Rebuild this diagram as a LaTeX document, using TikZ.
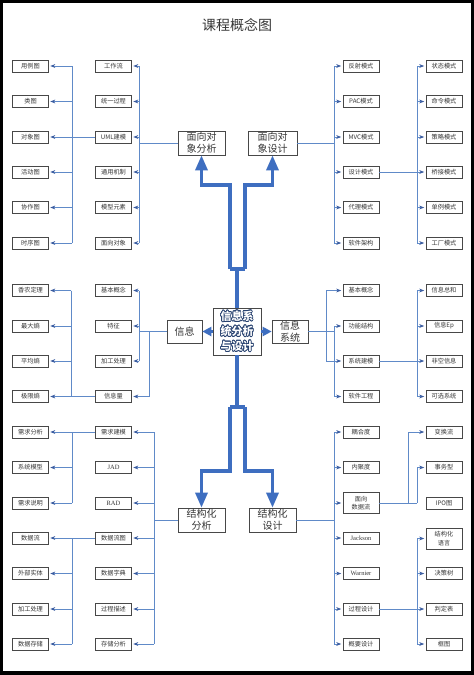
\documentclass[tikz,border=0pt]{standalone}
\usepackage{fontspec}
\setmainfont{Noto Sans CJK SC}
\newfontfamily\latinfont{Liberation Serif}
\usepackage{contour}
\usetikzlibrary{arrows.meta}
\contourlength{0.7pt}

\definecolor{lineblue}{RGB}{96,138,200}
\definecolor{tipblue}{RGB}{58,92,160}
\definecolor{thickblue}{RGB}{62,110,192}
\definecolor{outlineblue}{RGB}{40,66,112}
\definecolor{boxgray}{RGB}{72,72,72}
\definecolor{textgray}{RGB}{55,55,55}

\tikzset{
  box/.style={draw=boxgray, line width=0.6pt, text=textgray, minimum width=36pt, minimum height=12pt, inner sep=0pt, font=\fontsize{6.2}{7.4}\selectfont},
  tallbox/.style={box, minimum height=21pt, align=center, font=\fontsize{6.2}{8.6}\selectfont},
  bigbox/.style={draw=boxgray, line width=0.7pt, text=textgray, minimum width=47pt, minimum height=24pt, inner sep=0pt, align=center, font=\fontsize{10}{12}\selectfont},
  wire/.style={draw=lineblue, line width=0.8pt},
  feed/.style={wire, -{Stealth[length=5pt,width=3.8pt,color=tipblue]}, shorten >=1.5pt},
  trunk/.style={draw=thickblue, line width=3.2pt},
  bigfeed/.style={trunk, -{Triangle[length=15pt,width=12pt]}},
  sidefeed/.style={trunk, -{Triangle[length=9pt,width=9pt]}},
}

\begin{document}
\begin{tikzpicture}[x=1pt,y=-1pt]
\fill[black] (0,0) rectangle (474,675);
\fill[white] (3,3) rectangle (471,671);
\useasboundingbox (0,0) rectangle (474,675);

\node[text=textgray, font=\fontsize{14}{16}\selectfont] (title) at (237,25) {课程概念图};

% main nodes
\node[draw=boxgray, line width=0.7pt, fill=white, minimum width=48pt, minimum height=47pt, inner sep=0pt, align=center, text=white, font=\bfseries\fontsize{11}{15}\selectfont] (core) at (237,331.5) {\contour{outlineblue}{信息系}\\\contour{outlineblue}{统分析}\\\contour{outlineblue}{与设计}};
\node[bigbox] (ooa) at (201.5,143) {面向对\\象分析};
\node[bigbox, minimum width=49pt] (ood) at (272.5,143) {面向对\\象设计};
\node[bigbox, minimum width=35pt, minimum height=23pt] (info) at (184.5,331.5) {信息};
\node[bigbox, minimum width=36pt, minimum height=23pt] (infosys) at (290,331.5) {信息\\系统};
\node[bigbox] (sa) at (201.5,520) {结构化\\分析};
\node[bigbox] (sd) at (272.5,520) {结构化\\设计};

% thick trunks
\coordinate (upL) at (230,269);
\coordinate (upR) at (245,269);
\coordinate (dnL) at (230,407);
\coordinate (dnR) at (245,407);
\draw[trunk] (core.north) -- (237,269);
\draw[trunk] (upL) -- (upR);
\draw[bigfeed] (upL) -- (230,185) -| (ooa.south);
\draw[bigfeed] (upR) -- (245,185) -| (ood.south);
\draw[trunk] (core.south) -- (237,407);
\draw[trunk] (dnL) -- (dnR);
\draw[bigfeed] (dnL) -- (230,471) -| (sa.north);
\draw[bigfeed] (dnR) -- (245,471) -| (sd.north);
\draw[sidefeed] (core.west) -- (info.east);
\draw[sidefeed] (core.east) -- (infosys.west);

% top left
\node[box] (usecase) at (30.5,66) {用例图};
\node[box] (classd) at (30.5,101.5) {类图};
\node[box] (objectd) at (30.5,137) {对象图};
\node[box] (activity) at (30.5,172) {活动图};
\node[box] (collab) at (30.5,207.5) {协作图};
\node[box] (sequence) at (30.5,243) {时序图};
\node[box] (workflow) at (113.5,66) {工作流};
\node[box] (rup) at (113.5,101.5) {统一过程};
\node[box] (uml) at (113.5,137) {UML建模};
\node[box] (mech) at (113.5,172) {通用机制};
\node[box] (elem) at (113.5,207.5) {模型元素};
\node[box] (oo) at (113.5,243) {面向对象};

\coordinate (tlo) at (72,137);
\draw[wire] (uml.west) -- (tlo);
\draw[wire] (tlo |- usecase.east) -- (tlo |- sequence.east);
\draw[feed] (tlo |- usecase.east) -- (usecase.east);
\draw[feed] (tlo |- classd.east) -- (classd.east);
\draw[feed] (tlo |- objectd.east) -- (objectd.east);
\draw[feed] (tlo |- activity.east) -- (activity.east);
\draw[feed] (tlo |- collab.east) -- (collab.east);
\draw[feed] (tlo |- sequence.east) -- (sequence.east);
\coordinate (tli) at (139,143);
\draw[wire] (ooa.west) -- (tli);
\draw[wire] (tli |- workflow.east) -- (tli |- oo.east);
\draw[feed] (tli |- workflow.east) -- (workflow.east);
\draw[feed] (tli |- rup.east) -- (rup.east);
\draw[feed] (tli |- uml.east) -- (uml.east);
\draw[feed] (tli |- mech.east) -- (mech.east);
\draw[feed] (tli |- elem.east) -- (elem.east);
\draw[feed] (tli |- oo.east) -- (oo.east);

% top right
\node[box] (reflect) at (361,66) {反射模式};
\node[box] (pac) at (361,101.5) {PAC模式};
\node[box] (mvc) at (361,137) {MVC模式};
\node[box] (dp) at (361,172) {设计模式};
\node[box] (proxy) at (361,207.5) {代理模式};
\node[box] (arch) at (361,243) {软件架构};
\node[box] (state) at (444,66) {状态模式};
\node[box] (command) at (444,101.5) {命令模式};
\node[box] (strategy) at (444,137) {策略模式};
\node[box] (bridge) at (444,172) {桥接模式};
\node[box] (singleton) at (444,207.5) {单例模式};
\node[box] (factory) at (444,243) {工厂模式};

\coordinate (tri) at (334,143);
\draw[wire] (ood.east) -- (tri);
\draw[wire] (tri |- reflect.west) -- (tri |- arch.west);
\draw[feed] (tri |- reflect.west) -- (reflect.west);
\draw[feed] (tri |- pac.west) -- (pac.west);
\draw[feed] (tri |- mvc.west) -- (mvc.west);
\draw[feed] (tri |- dp.west) -- (dp.west);
\draw[feed] (tri |- proxy.west) -- (proxy.west);
\draw[feed] (tri |- arch.west) -- (arch.west);
\coordinate (tro) at (417,172);
\draw[wire] (dp.east) -- (tro);
\draw[wire] (tro |- state.west) -- (tro |- factory.west);
\draw[feed] (tro |- state.west) -- (state.west);
\draw[feed] (tro |- command.west) -- (command.west);
\draw[feed] (tro |- strategy.west) -- (strategy.west);
\draw[feed] (tro |- bridge.west) -- (bridge.west);
\draw[feed] (tro |- singleton.west) -- (singleton.west);
\draw[feed] (tro |- factory.west) -- (factory.west);

% middle left
\node[box] (shannon) at (30.5,290.5) {香农定理};
\node[box] (maxent) at (30.5,326) {最大熵};
\node[box] (avgent) at (30.5,361) {平均熵};
\node[box] (limitent) at (30.5,396.5) {极限熵};
\node[box] (basic) at (113.5,290.5) {基本概念};
\node[box] (feature) at (113.5,326) {特征};
\node[box] (process) at (113.5,361) {加工处理};
\node[box] (infoqty) at (113.5,396.5) {信息量};

\coordinate (mlo) at (71,396.5);
\draw[wire] (infoqty.west) -- (mlo);
\draw[wire] (mlo |- shannon.east) -- (mlo);
\draw[feed] (mlo |- shannon.east) -- (shannon.east);
\draw[feed] (mlo |- maxent.east) -- (maxent.east);
\draw[feed] (mlo |- avgent.east) -- (avgent.east);
\draw[feed] (mlo) -- (limitent.east);
\coordinate (mli) at (139,331.5);
\draw[wire] (info.west) -- (mli);
\draw[wire] (mli |- basic.east) -- (mli |- process.east);
\draw[feed] (mli |- basic.east) -- (basic.east);
\draw[feed] (mli |- feature.east) -- (feature.east);
\draw[feed] (mli |- process.east) -- (process.east);
\draw[feed] (149,331.5) |- (infoqty.east);

% middle right
\node[box] (sbasic) at (361,290.5) {基本概念};
\node[box] (func) at (361,326) {功能结构};
\node[box] (sysmodel) at (361,361) {系统建模};
\node[box] (sweng) at (361,396.5) {软件工程};
\node[box] (isum) at (444,290.5) {信息总和};
\node[box] (iep) at (444,326) {信息Ep};
\node[box] (nonempty) at (444,361) {非空信息};
\node[box] (optsys) at (444,396.5) {可选系统};

\coordinate (mra) at (326,331.5);
\coordinate (mrb) at (334,331.5);
\draw[wire] (infosys.east) -- (mrb);
\draw[wire] (mra |- sbasic.west) -- (mra |- sysmodel.west);
\draw[feed] (mra |- sbasic.west) -- (sbasic.west);
\draw[feed] (mra |- sysmodel.west) -- (sysmodel.west);
\draw[wire] (mrb |- func.west) -- (mrb |- sweng.west);
\draw[feed] (mrb |- func.west) -- (func.west);
\draw[feed] (mrb |- sweng.west) -- (sweng.west);
\coordinate (mro) at (417,361);
\draw[wire] (sysmodel.east) -- (mro);
\draw[wire] (mro |- isum.west) -- (mro |- optsys.west);
\draw[feed] (mro |- isum.west) -- (isum.west);
\draw[feed] (mro |- iep.west) -- (iep.west);
\draw[feed] (mro |- nonempty.west) -- (nonempty.west);
\draw[feed] (mro |- optsys.west) -- (optsys.west);

% bottom left
\node[box] (reqana) at (30.5,432) {需求分析};
\node[box] (smodel) at (30.5,467.5) {系统模型};
\node[box] (reqspec) at (30.5,503) {需求说明};
\node[box] (dflow) at (30.5,538) {数据流};
\node[box] (extent) at (30.5,573.5) {外部实体};
\node[box] (proc) at (30.5,609) {加工处理};
\node[box] (dstore) at (30.5,644) {数据存储};
\node[box] (reqmod) at (113.5,432) {需求建模};
\node[box, font=\latinfont\fontsize{6.5}{7.4}\selectfont] (jad) at (113.5,467.5) {JAD};
\node[box, font=\latinfont\fontsize{6.5}{7.4}\selectfont] (rad) at (113.5,503) {RAD};
\node[box] (dfd) at (113.5,538) {数据流图};
\node[box] (dict) at (113.5,573.5) {数据字典};
\node[box] (procdesc) at (113.5,609) {过程描述};
\node[box] (storeana) at (113.5,644) {存储分析};

\coordinate (blo) at (72,432);
\draw[wire] (reqmod.west) -- (blo);
\draw[wire] (blo) -- (blo |- reqspec.east);
\draw[feed] (blo) -- (reqana.east);
\draw[feed] (blo |- smodel.east) -- (smodel.east);
\draw[feed] (blo |- reqspec.east) -- (reqspec.east);
\coordinate (blp) at (72,538);
\draw[wire] (dfd.west) -- (blp);
\draw[wire] (blp) -- (blp |- dstore.east);
\draw[feed] (blp) -- (dflow.east);
\draw[feed] (blp |- extent.east) -- (extent.east);
\draw[feed] (blp |- proc.east) -- (proc.east);
\draw[feed] (blp |- dstore.east) -- (dstore.east);
\coordinate (bli) at (154,520);
\draw[wire] (sa.west) -- (bli);
\draw[wire] (bli |- reqmod.east) -- (bli |- storeana.east);
\draw[feed] (bli |- reqmod.east) -- (reqmod.east);
\draw[feed] (bli |- jad.east) -- (jad.east);
\draw[feed] (bli |- rad.east) -- (rad.east);
\draw[feed] (bli |- dfd.east) -- (dfd.east);
\draw[feed] (bli |- dict.east) -- (dict.east);
\draw[feed] (bli |- procdesc.east) -- (procdesc.east);
\draw[feed] (bli |- storeana.east) -- (storeana.east);

% bottom right
\node[box] (coupling) at (361,432) {耦合度};
\node[box] (cohesion) at (361,467.5) {内聚度};
\node[tallbox] (dataflow) at (361,503) {面向\\数据流};
\node[box, font=\latinfont\fontsize{6.5}{7.4}\selectfont] (jackson) at (361,538) {Jackson};
\node[box, font=\latinfont\fontsize{6.5}{7.4}\selectfont] (warnier) at (361,573.5) {Warnier};
\node[box] (procdesign) at (361,609) {过程设计};
\node[box] (outline) at (361,644) {概要设计};
\node[box] (transform) at (444,432) {变换流};
\node[box] (trans) at (444,467.5) {事务型};
\node[box] (ipo) at (444,503) {IPO图};
\node[tallbox] (slang) at (444,538.5) {结构化\\语言};
\node[box] (dtree) at (444,573.5) {决策树};
\node[box] (dtable) at (444,609) {判定表};
\node[box] (chart) at (444,644) {框图};

\coordinate (bri) at (334,520);
\draw[wire] (sd.east) -- (bri);
\draw[wire] (bri |- coupling.west) -- (bri |- outline.west);
\draw[feed] (bri |- coupling.west) -- (coupling.west);
\draw[feed] (bri |- cohesion.west) -- (cohesion.west);
\draw[feed] (bri |- dataflow.west) -- (dataflow.west);
\draw[feed] (bri |- jackson.west) -- (jackson.west);
\draw[feed] (bri |- warnier.west) -- (warnier.west);
\draw[feed] (bri |- procdesign.west) -- (procdesign.west);
\draw[feed] (bri |- outline.west) -- (outline.west);
\draw[wire] (dataflow.east) -- (417,503);
\draw[feed] (408,503) |- (transform.west);
\draw[feed] (417,503) |- (trans.west);
\coordinate (bro) at (417,609);
\draw[wire] (procdesign.east) -- (bro);
\draw[wire] (bro |- slang.west) -- (bro |- chart.west);
\draw[feed] (bro |- slang.west) -- (slang.west);
\draw[feed] (bro |- dtree.west) -- (dtree.west);
\draw[feed] (bro) -- (dtable.west);
\draw[feed] (bro |- chart.west) -- (chart.west);
\end{tikzpicture}
\end{document}
